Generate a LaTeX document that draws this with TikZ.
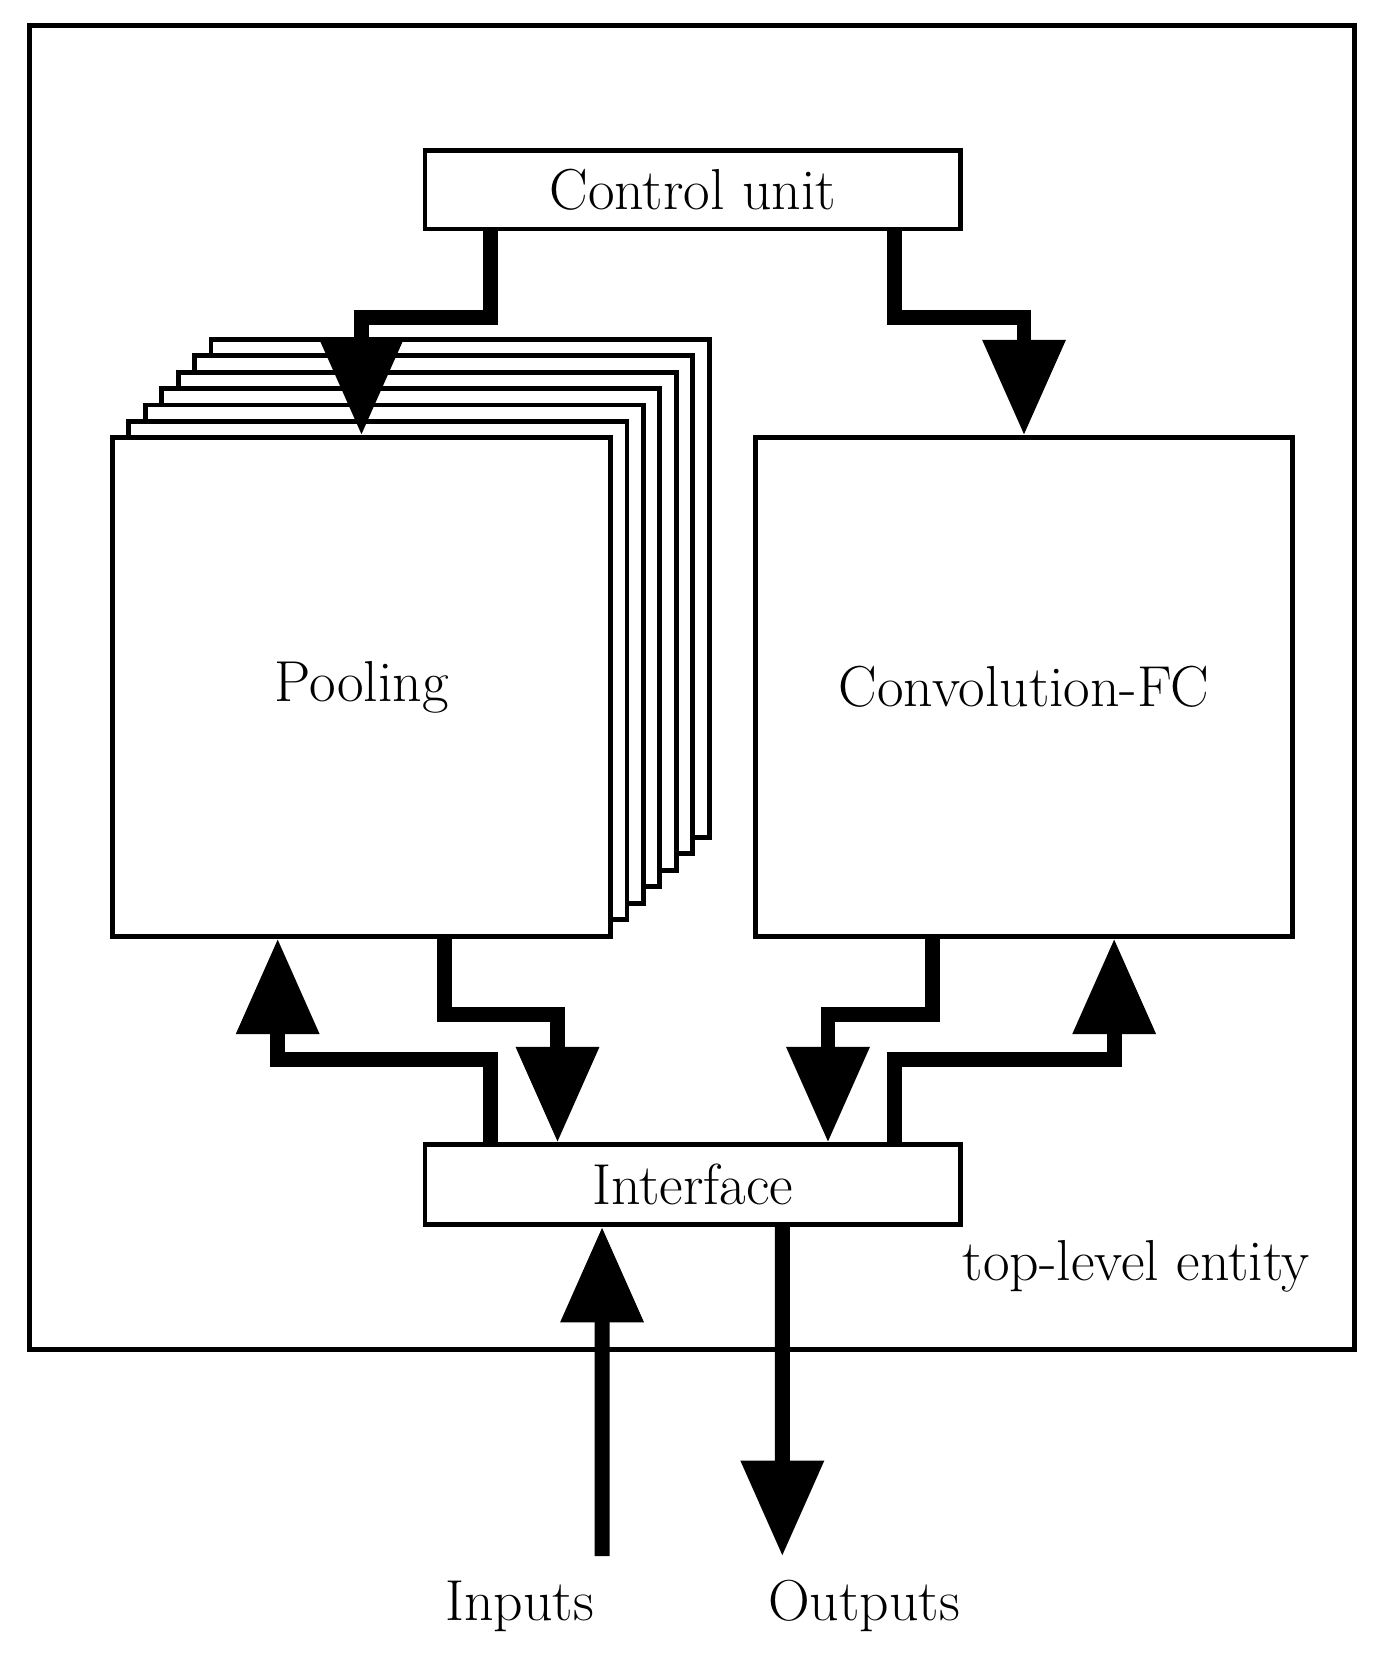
\documentclass[tikz,border=0pt]{standalone}
\usetikzlibrary{arrows.meta}
\begin{document}
\begin{tikzpicture}[x=0.01cm,y=-0.01cm,
    font=\fontsize{15.5}{18}\selectfont,
    box/.style={draw,line width=1.3pt,fill=white,inner sep=0pt},
    flow/.style={line width=4pt,line join=miter,
      -{Triangle[width=0.75cm,length=0.9cm]}}]
  \useasboundingbox (0,0) rectangle (1300,1565);
  % top-level entity
  \draw[line width=1.3pt] (28,24) rectangle (1278,1273);
  \node[anchor=center] (tle) at (1072,1195) {top-level entity};

  % pooling stack (back layers)
  \foreach \i in {6,5,...,1}
    \draw[box] (106+15.5*\i,413-15.5*\i) rectangle (576+15.5*\i,883-15.5*\i);

  \node[box,minimum width=5.05cm,minimum height=0.74cm] (cu) at (653.5,179) {Control unit};
  \node[box,minimum width=4.7cm,minimum height=4.7cm] (pool) at (341,648) {Pooling};
  \node[box,minimum width=5.06cm,minimum height=4.7cm] (conv) at (966,648) {Convolution-FC};
  \node[box,minimum width=5.05cm,minimum height=0.75cm] (iface) at (653.5,1117.5) {Interface};

  \node (in) at (490,1515) {Inputs};
  \node (out) at (815,1515) {Outputs};
  \coordinate (inS) at (568,1468);
  \coordinate (outE) at (738,1468);

  % connectors
  \draw[flow] ([xshift=-1.905cm]cu.south) -- ++(0,81) -| (pool.north);
  \draw[flow] ([xshift=1.905cm]cu.south) -- ++(0,81) -| (conv.north);
  \draw[flow] ([xshift=0.78cm]pool.south) -- ++(0,72) -| ([xshift=-1.275cm]iface.north);
  \draw[flow] ([xshift=-1.905cm]iface.north) -- ++(0,-78) -| ([xshift=-0.79cm]pool.south);
  \draw[flow] ([xshift=-0.86cm]conv.south) -- ++(0,72) -| ([xshift=1.275cm]iface.north);
  \draw[flow] ([xshift=1.905cm]iface.north) -- ++(0,-78) -| ([xshift=0.85cm]conv.south);
  \draw[flow] (inS) -- ([xshift=-0.855cm]iface.south);
  \draw[flow] ([xshift=0.845cm]iface.south) -- (outE);
\end{tikzpicture}
\end{document}
